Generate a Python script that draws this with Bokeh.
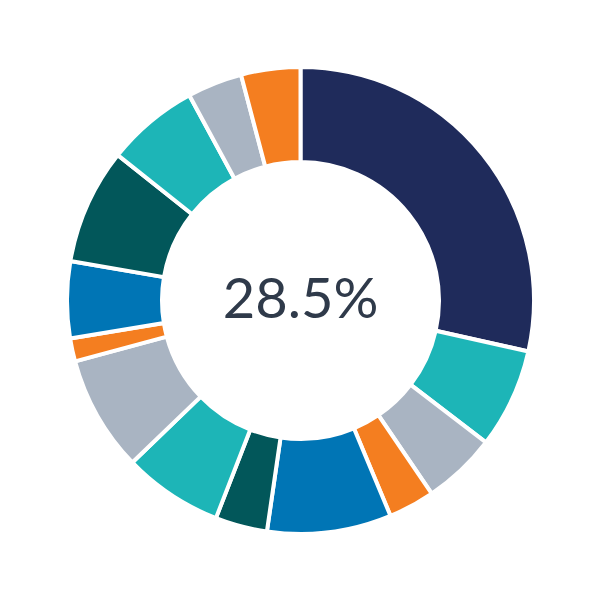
import math
from bokeh.plotting import figure
from bokeh.models import ColumnDataSource, Range1d
from bokeh.core.properties import value
from bokeh.embed import file_html
from bokeh.resources import INLINE

# Slice shares (percent), clockwise from 12 o'clock
shares = [28.5, 6.9, 5.1, 3.2, 8.6, 3.6, 6.9, 8.0, 1.6, 5.3, 8.0, 6.4, 3.8, 4.1]
colors = ["#1f2b5b", "#1db5b7", "#a9b4c2", "#f47e20", "#0075b5", "#02575a",
          "#1db5b7", "#a9b4c2", "#f47e20", "#0075b5", "#02575a", "#1db5b7",
          "#a9b4c2", "#f47e20"]
center_label = "28.5%"

total = sum(shares)
starts, ends = [], []
cum = 0.0
for s in shares:
    a0 = cum / total * 2 * math.pi
    cum += s
    a1 = cum / total * 2 * math.pi
    starts.append(math.pi / 2 - a0)
    ends.append(math.pi / 2 - a1)

src = ColumnDataSource(dict(start=starts, end=ends, color=colors))

W = 584
p = figure(width=W, height=W, output_backend="svg", toolbar_location=None,
           x_range=Range1d(-300, W - 300), y_range=Range1d(-(W - 300), 300),
           min_border=0)
p.axis.visible = False
p.grid.visible = False
p.outline_line_color = None
p.background_fill_color = "white"

p.annular_wedge(x=0, y=0, inner_radius=138.5, outer_radius=233.5,
                start_angle="start", end_angle="end", direction="clock",
                fill_color="color", line_color="white", line_width=4, source=src)

p.text(x=[0], y=[4], text=[center_label], text_align="center",
       text_baseline="middle", text_font=value("Lato"),
       text_font_size="56px", text_color="#2f3a4a")

open("out.html", "w").write(file_html(p, INLINE))
